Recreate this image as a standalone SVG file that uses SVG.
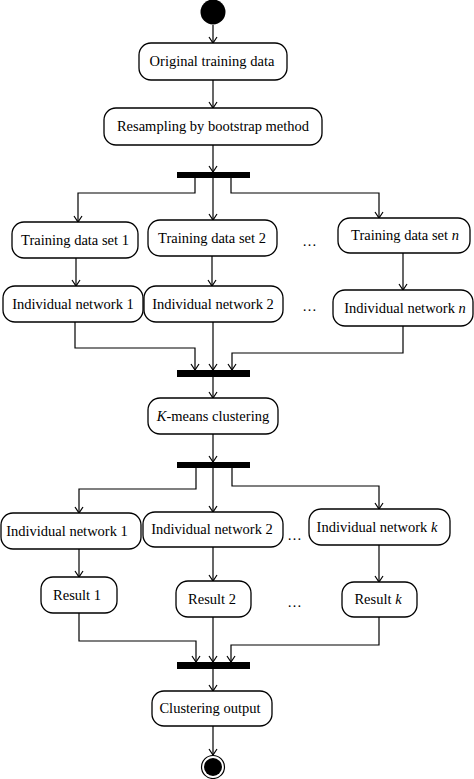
<svg xmlns="http://www.w3.org/2000/svg" width="474" height="779" viewBox="0 0 474 779">
<defs>
<marker id="arr" viewBox="0 0 10 10" refX="9" refY="5" markerWidth="10" markerHeight="10" markerUnits="userSpaceOnUse" orient="auto">
<polyline points="3,1 9,5 3,9" fill="none" stroke="#000" stroke-width="1.2"/>
</marker>
<style>
.box{fill:#fff;stroke:#000;stroke-width:1.3}
.bar{fill:#000}
.t{font-family:"Liberation Serif","Times New Roman",serif;font-size:14.5px;fill:#000;text-anchor:middle}
.i{font-style:italic}
.c{fill:none;stroke:#000;stroke-width:1.2;marker-end:url(#arr)}
.dots{font-family:"Liberation Serif",serif;font-size:14.5px;fill:#000;text-anchor:middle;letter-spacing:1px}
</style>
</defs>
<rect width="474" height="779" fill="#fff"/>
<g id="connectors">
<path class="c" d="M213,25 V43"/>
<path class="c" d="M213,80 V108"/>
<path class="c" d="M213,145 V172"/>
<path class="c" d="M195,178 V193 H78 V222"/>
<path class="c" d="M213,178 V220"/>
<path class="c" d="M231,178 V193 H379 V218"/>
<path class="c" d="M76,258 V286"/>
<path class="c" d="M212,256 V286"/>
<path class="c" d="M403,253 V290"/>
<path class="c" d="M75,322 V348 H195 V370"/>
<path class="c" d="M213,322 V370"/>
<path class="c" d="M403,326 V353 H232 V370"/>
<path class="c" d="M213,377 V398"/>
<path class="c" d="M213,434 V462"/>
<path class="c" d="M196,468 V489 H79 V513"/>
<path class="c" d="M213,468 V512"/>
<path class="c" d="M232,468 V486 H379 V509"/>
<path class="c" d="M79,549 V577"/>
<path class="c" d="M213,547 V581"/>
<path class="c" d="M379,545 V582"/>
<path class="c" d="M79,613 V641 H196 V662"/>
<path class="c" d="M213,617 V662"/>
<path class="c" d="M379,617 V645 H231 V662"/>
<path class="c" d="M213,669 V691"/>
<path class="c" d="M213,726 V755"/>
</g>
<g id="start"><circle cx="213" cy="12" r="12.5" fill="#000"/></g>
<g id="original"><rect class="box" x="139" y="43" width="148" height="37" rx="12"/><text class="t" x="212" y="66">Original training data</text></g>
<g id="resampling"><rect class="box" x="104" y="108" width="218" height="37" rx="12"/><text class="t" x="213" y="131">Resampling by bootstrap method</text></g>
<g id="fork1"><rect class="bar" x="177" y="172" width="73" height="6"/></g>
<g id="tds1"><rect class="box" x="12" y="222" width="126" height="36" rx="12"/><text class="t" x="75" y="245">Training data set 1</text></g>
<g id="tds2"><rect class="box" x="148" y="220" width="129" height="36" rx="12"/><text class="t" x="212" y="243">Training data set 2</text></g>
<g id="dots1"><text class="dots" x="310" y="246">…</text></g>
<g id="tdsn"><rect class="box" x="338" y="218" width="132" height="35" rx="12"/><text class="t" x="405" y="240">Training data set <tspan class="i">n</tspan></text></g>
<g id="in1"><rect class="box" x="3" y="286" width="140" height="36" rx="12"/><text class="t" x="73" y="309">Individual network 1</text></g>
<g id="in2"><rect class="box" x="144" y="286" width="139" height="36" rx="12"/><text class="t" x="213" y="309">Individual network 2</text></g>
<g id="dots2"><text class="dots" x="310" y="311">…</text></g>
<g id="inn"><rect class="box" x="333" y="290" width="140" height="36" rx="12"/><text class="t" x="405" y="313">Individual network <tspan class="i">n</tspan></text></g>
<g id="join1"><rect class="bar" x="177" y="370" width="73" height="7"/></g>
<g id="kmeans"><rect class="box" x="148" y="398" width="130" height="36" rx="12"/><text class="t" x="213" y="421"><tspan class="i">K</tspan>-means clustering</text></g>
<g id="fork2"><rect class="bar" x="177" y="462" width="73" height="6"/></g>
<g id="ink1"><rect class="box" x="1" y="513" width="140" height="36" rx="12"/><text class="t" x="67" y="536">Individual network 1</text></g>
<g id="ink2"><rect class="box" x="143" y="512" width="140" height="35" rx="12"/><text class="t" x="212" y="534">Individual network 2</text></g>
<g id="dots3"><text class="dots" x="295" y="540">…</text></g>
<g id="inkk"><rect class="box" x="309" y="509" width="141" height="36" rx="12"/><text class="t" x="377" y="532">Individual network <tspan class="i">k</tspan></text></g>
<g id="r1"><rect class="box" x="41" y="577" width="76" height="36" rx="12"/><text class="t" x="77" y="600">Result 1</text></g>
<g id="r2"><rect class="box" x="176" y="581" width="75" height="36" rx="12"/><text class="t" x="212" y="604">Result 2</text></g>
<g id="dots4"><text class="dots" x="295" y="607">…</text></g>
<g id="rk"><rect class="box" x="342" y="582" width="75" height="35" rx="12"/><text class="t" x="378" y="604">Result <tspan class="i">k</tspan></text></g>
<g id="join2"><rect class="bar" x="177" y="662" width="73" height="7"/></g>
<g id="output"><rect class="box" x="152" y="691" width="120" height="35" rx="12"/><text class="t" x="210" y="713">Clustering output</text></g>
<g id="end"><circle cx="213" cy="767" r="11.5" fill="#fff" stroke="#000" stroke-width="1.2"/><circle cx="213" cy="767" r="9" fill="#000"/></g>
</svg>
